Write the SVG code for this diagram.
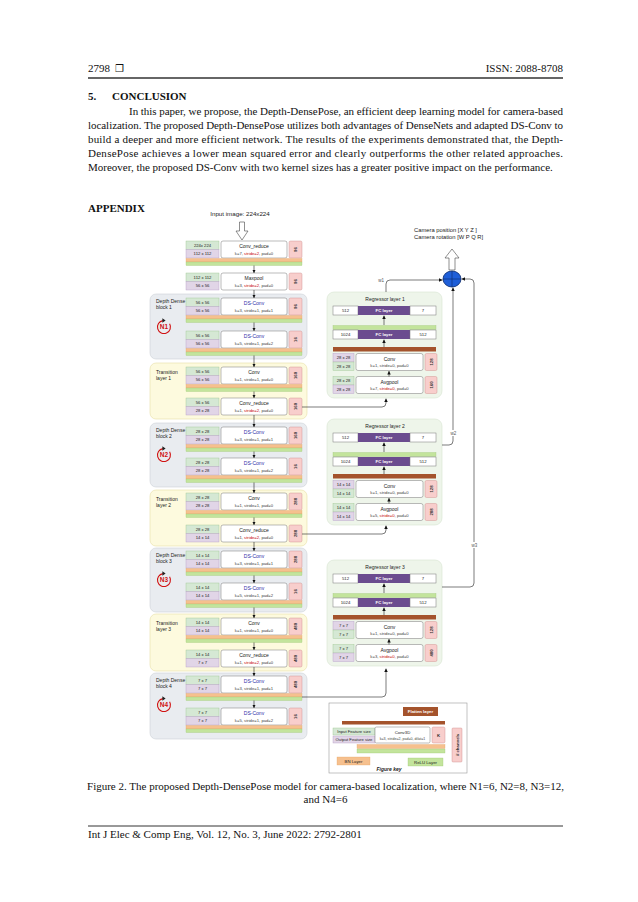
<svg xmlns="http://www.w3.org/2000/svg" xmlns:xlink="http://www.w3.org/1999/xlink" width="638" height="902" viewBox="0 0 638 902">
<style>
.pg{font-family:"Liberation Serif",serif;font-size:11px;fill:#111}
.b{font-weight:bold}
.f{font-family:"Liberation Sans",Arial,sans-serif}
.lb{font-family:"Liberation Sans",sans-serif;font-size:4.2px;text-anchor:middle;fill:#222}
.t1{font-family:"Liberation Sans",sans-serif;font-size:5px;text-anchor:middle;fill:#222}
.ds{fill:#2b2ba8}
.t2{font-family:"Liberation Sans",sans-serif;font-size:4.2px;text-anchor:middle;fill:#444}
.s2{fill:#c40000}
.rn{font-family:"Liberation Sans",sans-serif;font-size:4.3px;font-weight:bold;text-anchor:middle;fill:#333}
.gl{font-family:"Liberation Sans",sans-serif;font-size:5px;fill:#222}
.nn{font-family:"Liberation Sans",sans-serif;font-size:6.5px;font-weight:bold;text-anchor:middle;fill:#d01010}
.g{fill:#d5e8d4;stroke:#9cc58f;stroke-width:0.4}
.p{fill:#e1d5e7;stroke:#b39cc6;stroke-width:0.4}
.m{fill:#fff;stroke:#777;stroke-width:0.5}
.r{fill:#f8cecc;stroke:#c98683;stroke-width:0.4}
.ob{fill:#f6c08e;stroke:#e0a060;stroke-width:0.3}
.gb{fill:#c3e49c;stroke:#95c06a;stroke-width:0.3}
.blk{fill:#e9ecf0;stroke:#cdd1d7;stroke-width:0.6}
.trn{fill:#fdfade;stroke:#e8dfa6;stroke-width:0.6}
.reg{fill:#eef5ea;stroke:#d6e4d0;stroke-width:0.6}
.fc{fill:#6b4c8f}
.br{fill:#a4532c}
.cn{fill:none;stroke:#222;stroke-width:0.6}
.ft{font-family:"Liberation Sans",sans-serif;font-size:4.3px;text-anchor:middle;fill:#222}
.fw{font-family:"Liberation Sans",sans-serif;font-size:4.3px;font-weight:bold;text-anchor:middle;fill:#fff}
.wl{font-family:"Liberation Sans",sans-serif;font-size:4.5px;fill:#555}
</style>
<defs>
<marker id="a" viewBox="0 0 6 6" refX="6" refY="3" markerWidth="3.5" markerHeight="3.5" orient="auto" markerUnits="userSpaceOnUse"><path d="M0,0 L6,3 L0,6 z" fill="#111"/></marker>
<g id="rowbox">
<rect class="g" x="186" y="0" width="33" height="8.5"/>
<rect class="p" x="186" y="8.5" width="33" height="8.5"/>
<rect class="m" x="221" y="0" width="66" height="17" rx="2"/>
<rect class="r" x="289" y="0" width="13" height="17" rx="1.5"/>
</g>
<g id="bars">
<rect class="ob" x="186" y="17.5" width="116" height="3.5"/>
<rect class="gb" x="186" y="21" width="116" height="3.5"/>
</g>
<g id="ncirc">
<path d="M162.9,-6.4 A6.5,6.5 0 1 0 169.6,-3.25" fill="none" stroke="#d01010" stroke-width="1.1"/>
<path d="M165.6,-6.5 L162.4,-8.8 L162.4,-4.2 z" fill="#222"/>
</g>
<g id="regbox">
<rect class="reg" x="327" y="0" width="115" height="106" rx="7"/>
<rect class="m" x="333" y="14" width="25" height="9"/>
<rect class="fc" x="358" y="14" width="52" height="9"/>
<rect class="m" x="410" y="14" width="26" height="9"/>
<rect class="gb" x="333" y="33.5" width="103" height="4"/>
<rect class="m" x="333" y="38" width="25" height="9"/>
<rect class="fc" x="358" y="38" width="52" height="9"/>
<rect class="m" x="410" y="38" width="26" height="9"/>
<rect class="br" x="333" y="55" width="103" height="4.5"/>
<rect class="p" x="333" y="61.5" width="21" height="8.5"/>
<rect class="g" x="333" y="70" width="21" height="8.5"/>
<rect class="m" x="356" y="61.5" width="67" height="17" rx="2"/>
<rect class="r" x="425" y="61.5" width="12" height="17" rx="1.5"/>
<rect class="g" x="333" y="84.5" width="21" height="8.5"/>
<rect class="p" x="333" y="93" width="21" height="8.5"/>
<rect class="m" x="356" y="84.5" width="67" height="17" rx="2"/>
<rect class="r" x="425" y="84.5" width="12" height="17" rx="1.5"/>
<text class="ft" x="345.5" y="20">512</text>
<text class="fw" x="384" y="20">FC layer</text>
<text class="ft" x="423" y="20">7</text>
<text class="ft" x="345.5" y="44">1024</text>
<text class="fw" x="384" y="44">FC layer</text>
<text class="ft" x="423" y="44">512</text>
<text class="t1" x="389.5" y="68.5">Conv</text>
<text class="t2" x="389.5" y="75">k=1, stride=0, pad=0</text>
<text class="rn" transform="translate(432.7,70) rotate(-90)">128</text>
<text class="t1" x="389.5" y="91.5">Avgpool</text>
</g>
</defs>

<!-- page text -->
<g id="page">
<text class="pg" x="88" y="72">2798</text>
<text x="115" y="72" style="font-family:'DejaVu Sans',sans-serif;font-size:10px;fill:#111">❐</text>
<text class="pg" x="563" y="72" text-anchor="end">ISSN: 2088-8708</text>
<line x1="88" y1="78" x2="563" y2="78" stroke="#333" stroke-width="1.4"/>
<text class="pg b" x="88" y="100">5.</text>
<text class="pg b" x="112" y="100">CONCLUSION</text>
<text class="pg" x="129" y="115" textLength="434" lengthAdjust="spacing">In this paper, we propose, the Depth-DensePose, an efficient deep learning model for camera-based</text>
<text class="pg" x="88" y="129" textLength="475" lengthAdjust="spacing">localization. The proposed Depth-DensePose utilizes both advantages of DenseNets and adapted DS-Conv to</text>
<text class="pg" x="88" y="143" textLength="475" lengthAdjust="spacing">build a deeper and more efficient network. The results of the experiments demonstrated that, the Depth-</text>
<text class="pg" x="88" y="157" textLength="475" lengthAdjust="spacing">DensePose achieves a lower mean squared error and clearly outperforms the other related approaches.</text>
<text class="pg" x="88" y="171">Moreover, the proposed DS-Conv with two kernel sizes has a greater positive impact on the performance.</text>
<text class="pg b" x="88" y="212">APPENDIX</text>
<text class="pg" x="325.5" y="790" text-anchor="middle">Figure 2. The proposed Depth-DensePose model for camera-based localization, where N1=6, N2=8, N3=12,</text>
<text class="pg" x="325.5" y="803" text-anchor="middle">and N4=6</text>
<line x1="88" y1="826" x2="563" y2="826" stroke="#333" stroke-width="1"/>
<text class="pg" x="88" y="838">Int J Elec &amp; Comp Eng, Vol. 12, No. 3, June 2022: 2792-2801</text>
</g>

<!-- figure top texts -->
<g id="input">
<text class="f" x="240" y="216" text-anchor="middle" style="font-size:6.2px;fill:#222">Input image: 224x224</text>
<polygon points="239.5,222 239.5,231 236,231 242,240 248,231 244.5,231 244.5,222" fill="#fff" stroke="#444" stroke-width="0.6"/>
</g>
<g id="output">
<text class="f" x="414" y="232" style="font-size:5.8px;fill:#222">Camera position [X Y Z ]</text>
<text class="f" x="414" y="239" style="font-size:5.8px;fill:#222">Camera rotation [W P Q R]</text>
<polygon points="449,270 449,258 445,258 452,249 459,258 455,258 455,270" fill="#fff" stroke="#444" stroke-width="0.6"/>
</g>

<!-- group backgrounds -->
<g id="block1"><rect class="blk" x="150" y="294" width="157" height="65" rx="6"/><text class="gl" x="156" y="303">Depth Dense</text><text class="gl" x="156" y="309">block 1</text><use href="#ncirc" transform="translate(0,327)"/><text class="nn" x="164" y="329.3">N1</text></g>
<g id="trans1"><rect class="trn" x="150" y="363" width="157" height="56" rx="6"/><text class="gl" x="156" y="374">Transition</text><text class="gl" x="156" y="380">layer 1</text></g>
<g id="block2"><rect class="blk" x="150" y="423" width="157" height="64" rx="6"/><text class="gl" x="156" y="432">Depth Dense</text><text class="gl" x="156" y="438">block 2</text><use href="#ncirc" transform="translate(0,455)"/><text class="nn" x="164" y="457.3">N2</text></g>
<g id="trans2"><rect class="trn" x="150" y="490" width="157" height="56" rx="6"/><text class="gl" x="156" y="501">Transition</text><text class="gl" x="156" y="507">layer 2</text></g>
<g id="block3"><rect class="blk" x="150" y="548" width="157" height="64" rx="6"/><text class="gl" x="156" y="557">Depth Dense</text><text class="gl" x="156" y="563">block 3</text><use href="#ncirc" transform="translate(0,580)"/><text class="nn" x="164" y="582.3">N3</text></g>
<g id="trans3"><rect class="trn" x="150" y="614" width="157" height="57" rx="6"/><text class="gl" x="156" y="625">Transition</text><text class="gl" x="156" y="631">layer 3</text></g>
<g id="block4"><rect class="blk" x="150" y="673" width="157" height="66" rx="6"/><text class="gl" x="156" y="682">Depth Dense</text><text class="gl" x="156" y="688">block 4</text><use href="#ncirc" transform="translate(0,705)"/><text class="nn" x="164" y="707.3">N4</text></g>

<!-- main column rows -->
<g id="r1" transform="translate(0,241)"><use href="#rowbox"/><use href="#bars"/><text class="lb" x="202.5" y="5.9">224x 224</text><text class="lb" x="202.5" y="14.4">112 x 112</text><text class="t1" x="254" y="7">Conv_reduce</text><text class="t2" x="254" y="13.6">k=7, <tspan class="s2">stride=2</tspan>, pad=0</text><text class="rn" transform="translate(297,8.5) rotate(-90)">96</text></g>
<g id="r2" transform="translate(0,273)"><use href="#rowbox"/><text class="lb" x="202.5" y="5.9">112 x 112</text><text class="lb" x="202.5" y="14.4">56 x 56</text><text class="t1" x="254" y="7">Maxpool</text><text class="t2" x="254" y="13.6">k=3, <tspan class="s2">stride=2</tspan>, pad=0</text><text class="rn" transform="translate(297,8.5) rotate(-90)">96</text></g>
<g id="b1a" transform="translate(0,298)"><use href="#rowbox"/><use href="#bars"/><text class="lb" x="202.5" y="5.9">56 x 56</text><text class="lb" x="202.5" y="14.4">56 x 56</text><text class="t1 ds" x="254" y="7">DS-Conv</text><text class="t2" x="254" y="13.6">k=3, stride=1, pad=1</text><text class="rn" transform="translate(297,8.5) rotate(-90)">96</text></g>
<g id="b1b" transform="translate(0,331)"><use href="#rowbox"/><use href="#bars"/><text class="lb" x="202.5" y="5.9">56 x 56</text><text class="lb" x="202.5" y="14.4">56 x 56</text><text class="t1 ds" x="254" y="7">DS-Conv</text><text class="t2" x="254" y="13.6">k=5, stride=1, pad=2</text><text class="rn" transform="translate(297,8.5) rotate(-90)">16</text></g>
<g id="t1a" transform="translate(0,367)"><use href="#rowbox"/><use href="#bars"/><text class="lb" x="202.5" y="5.9">56 x 56</text><text class="lb" x="202.5" y="14.4">56 x 56</text><text class="t1" x="254" y="7">Conv</text><text class="t2" x="254" y="13.6">k=1, stride=1, pad=0</text><text class="rn" transform="translate(297,8.5) rotate(-90)">160</text></g>
<g id="t1b" transform="translate(0,398)"><use href="#rowbox"/><text class="lb" x="202.5" y="5.9">56 x 56</text><text class="lb" x="202.5" y="14.4">28 x 28</text><text class="t1" x="254" y="7">Conv_reduce</text><text class="t2" x="254" y="13.6">k=1, <tspan class="s2">stride=2</tspan>, pad=0</text><text class="rn" transform="translate(297,8.5) rotate(-90)">160</text></g>
<g id="b2a" transform="translate(0,427)"><use href="#rowbox"/><use href="#bars"/><text class="lb" x="202.5" y="5.9">28 x 28</text><text class="lb" x="202.5" y="14.4">28 x 28</text><text class="t1 ds" x="254" y="7">DS-Conv</text><text class="t2" x="254" y="13.6">k=3, stride=1, pad=1</text><text class="rn" transform="translate(297,8.5) rotate(-90)">160</text></g>
<g id="b2b" transform="translate(0,458)"><use href="#rowbox"/><use href="#bars"/><text class="lb" x="202.5" y="5.9">28 x 28</text><text class="lb" x="202.5" y="14.4">28 x 28</text><text class="t1 ds" x="254" y="7">DS-Conv</text><text class="t2" x="254" y="13.6">k=5, stride=1, pad=2</text><text class="rn" transform="translate(297,8.5) rotate(-90)">16</text></g>
<g id="t2a" transform="translate(0,493)"><use href="#rowbox"/><use href="#bars"/><text class="lb" x="202.5" y="5.9">28 x 28</text><text class="lb" x="202.5" y="14.4">28 x 28</text><text class="t1" x="254" y="7">Conv</text><text class="t2" x="254" y="13.6">k=1, stride=1, pad=0</text><text class="rn" transform="translate(297,8.5) rotate(-90)">288</text></g>
<g id="t2b" transform="translate(0,525)"><use href="#rowbox"/><text class="lb" x="202.5" y="5.9">28 x 28</text><text class="lb" x="202.5" y="14.4">14 x 14</text><text class="t1" x="254" y="7">Conv_reduce</text><text class="t2" x="254" y="13.6">k=1, <tspan class="s2">stride=2</tspan>, pad=0</text><text class="rn" transform="translate(297,8.5) rotate(-90)">288</text></g>
<g id="b3a" transform="translate(0,551)"><use href="#rowbox"/><use href="#bars"/><text class="lb" x="202.5" y="5.9">14 x 14</text><text class="lb" x="202.5" y="14.4">14 x 14</text><text class="t1 ds" x="254" y="7">DS-Conv</text><text class="t2" x="254" y="13.6">k=3, stride=1, pad=1</text><text class="rn" transform="translate(297,8.5) rotate(-90)">288</text></g>
<g id="b3b" transform="translate(0,583)"><use href="#rowbox"/><use href="#bars"/><text class="lb" x="202.5" y="5.9">14 x 14</text><text class="lb" x="202.5" y="14.4">14 x 14</text><text class="t1 ds" x="254" y="7">DS-Conv</text><text class="t2" x="254" y="13.6">k=5, stride=1, pad=2</text><text class="rn" transform="translate(297,8.5) rotate(-90)">16</text></g>
<g id="t3a" transform="translate(0,618)"><use href="#rowbox"/><use href="#bars"/><text class="lb" x="202.5" y="5.9">14 x 14</text><text class="lb" x="202.5" y="14.4">14 x 14</text><text class="t1" x="254" y="7">Conv</text><text class="t2" x="254" y="13.6">k=1, stride=1, pad=0</text><text class="rn" transform="translate(297,8.5) rotate(-90)">480</text></g>
<g id="t3b" transform="translate(0,650)"><use href="#rowbox"/><text class="lb" x="202.5" y="5.9">14 x 14</text><text class="lb" x="202.5" y="14.4">7 x 7</text><text class="t1" x="254" y="7">Conv_reduce</text><text class="t2" x="254" y="13.6">k=1, <tspan class="s2">stride=2</tspan>, pad=0</text><text class="rn" transform="translate(297,8.5) rotate(-90)">480</text></g>
<g id="b4a" transform="translate(0,676)"><use href="#rowbox"/><use href="#bars"/><text class="lb" x="202.5" y="5.9">7 x 7</text><text class="lb" x="202.5" y="14.4">7 x 7</text><text class="t1 ds" x="254" y="7">DS-Conv</text><text class="t2" x="254" y="13.6">k=3, stride=1, pad=1</text><text class="rn" transform="translate(297,8.5) rotate(-90)">480</text></g>
<g id="b4b" transform="translate(0,708)"><use href="#rowbox"/><use href="#bars"/><text class="lb" x="202.5" y="5.9">7 x 7</text><text class="lb" x="202.5" y="14.4">7 x 7</text><text class="t1 ds" x="254" y="7">DS-Conv</text><text class="t2" x="254" y="13.6">k=5, stride=1, pad=2</text><text class="rn" transform="translate(297,8.5) rotate(-90)">16</text></g>

<!-- regressors -->
<g id="reg1" transform="translate(0,292)"><use href="#regbox"/><text class="t1" x="385" y="8.5">Regressor layer 1</text><text class="lb" x="343.5" y="67.4">28 x 28</text><text class="lb" x="343.5" y="75.9">28 x 28</text><text class="lb" x="343.5" y="90.4">28 x 28</text><text class="lb" x="343.5" y="98.9">28 x 28</text><text class="t2" x="389.5" y="98">k=7, <tspan class="s2">stride=0</tspan>, pad=0</text><text class="rn" transform="translate(432.7,93) rotate(-90)">160</text></g>
<g id="reg2" transform="translate(0,419)"><use href="#regbox"/><text class="t1" x="385" y="8.5">Regressor layer 2</text><text class="lb" x="343.5" y="67.4">14 x 14</text><text class="lb" x="343.5" y="75.9">14 x 14</text><text class="lb" x="343.5" y="90.4">14 x 14</text><text class="lb" x="343.5" y="98.9">14 x 14</text><text class="t2" x="389.5" y="98">k=5, <tspan class="s2">stride=0</tspan>, pad=0</text><text class="rn" transform="translate(432.7,93) rotate(-90)">288</text></g>
<g id="reg3" transform="translate(0,560)"><use href="#regbox"/><text class="t1" x="385" y="8.5">Regressor layer 3</text><text class="lb" x="343.5" y="67.4">7 x 7</text><text class="lb" x="343.5" y="75.9">7 x 7</text><text class="lb" x="343.5" y="90.4">7 x 7</text><text class="lb" x="343.5" y="98.9">7 x 7</text><text class="t2" x="389.5" y="98">k=3, <tspan class="s2">stride=0</tspan>, pad=0</text><text class="rn" transform="translate(432.7,93) rotate(-90)">480</text></g>

<!-- sum node -->
<g id="sum">
<ellipse cx="452" cy="279" rx="9" ry="8" fill="#1f5fd8" stroke="#0d2b6b" stroke-width="0.8"/>
<line x1="443" y1="279" x2="461" y2="279" stroke="#0d2b6b" stroke-width="0.6"/>
<line x1="452" y1="271" x2="452" y2="287" stroke="#0d2b6b" stroke-width="0.6"/>
</g>

<!-- connectors -->
<g id="connectors" class="cn" marker-end="url(#a)">
<path d="M254,265.5 V273"/>
<path d="M254,290 V298"/>
<path d="M254,322.5 V331"/>
<path d="M254,355.5 V367"/>
<path d="M254,391.5 V398"/>
<path d="M254,415 V427"/>
<path d="M254,451.5 V458"/>
<path d="M254,482.5 V493"/>
<path d="M254,517.5 V525"/>
<path d="M254,542 V551"/>
<path d="M254,575.5 V583"/>
<path d="M254,607.5 V618"/>
<path d="M254,642.5 V650"/>
<path d="M254,667 V676"/>
<path d="M254,700.5 V708"/>
<path d="M302,407 H382 Q386,407 386,403 V398.5"/>
<path d="M302,534 H382 Q386,534 386,530 V525.5"/>
<path d="M302,697 H382 Q386,697 386,693 V668.5"/>
<path d="M384,325 V315.5"/><path d="M384,347 V339.5"/><path d="M389,376.5 V371"/>
<path d="M384,452 V442.5"/><path d="M384,474 V466.5"/><path d="M389,503.5 V498"/>
<path d="M384,593 V583.5"/><path d="M384,615 V607.5"/><path d="M389,644.5 V639"/>
<path d="M386,292 V284 Q386,280 390,280 H442.5"/>
<path d="M442,445 H449 Q453,445 453,441 V287.5"/>
<path d="M442,587 H470 Q474,587 474,583 V283 Q474,279 470,279 H461.5"/>
<path d="M403,711.5 H394 V720.5"/>
<path d="M452,740 H445.5"/>
<path d="M423,758 V753.5"/>
<path d="M353,757 V747 H356.5"/>
</g>
<g id="wlabels">
<text class="wl" x="384" y="282" text-anchor="end">w1</text>
<rect x="450" y="430" width="7" height="6" fill="#fff"/><text class="wl" x="453.5" y="434.5" text-anchor="middle">w2</text>
<rect x="471" y="542" width="7" height="6" fill="#fff"/><text class="wl" x="474.5" y="546.5" text-anchor="middle">w3</text>
</g>

<!-- figure key -->
<g id="key">
<rect x="329" y="703" width="138" height="70" fill="#fff" stroke="#999" stroke-width="0.6"/>
<rect class="br" x="403" y="707" width="35" height="9"/>
<text class="fw" x="420.5" y="713">Flatten layer</text>
<rect class="br" x="342" y="721" width="103" height="3.5"/>
<rect class="g" x="333" y="728" width="42" height="7"/>
<rect class="p" x="333" y="736" width="42" height="7"/>
<text class="lb" x="354" y="733">Input Feature size</text>
<text class="lb" x="354" y="741">Output Feature size</text>
<rect class="m" x="375" y="727" width="55" height="16" rx="1.5"/>
<text class="t1" x="402.5" y="733.5" style="font-size:4.3px">Conv3D</text>
<text class="t2" x="402.5" y="740" style="font-size:3.6px">k=3, stride=2, pad=0, dilat=1</text>
<rect class="r" x="432" y="727" width="13" height="16" rx="1.5"/>
<text class="rn" x="438.5" y="736.5">K</text>
<rect class="ob" x="357" y="744.5" width="88" height="4"/>
<rect class="gb" x="357" y="749" width="88" height="4"/>
<rect class="r" x="452" y="728" width="10" height="34" rx="1"/>
<text class="rn" transform="translate(458.5,745) rotate(-90)">#  channels</text>
<rect class="ob" x="337" y="757" width="33" height="8"/>
<text class="ft" x="353.5" y="762.5">BN Layer</text>
<rect class="gb" x="408" y="758" width="35" height="8"/>
<text class="ft" x="425.5" y="763.5">ReLU Layer</text>
<text class="f" x="389" y="771" text-anchor="middle" style="font-size:5px;font-weight:bold;font-style:italic;fill:#222">Figure key</text>
</g>
</svg>
